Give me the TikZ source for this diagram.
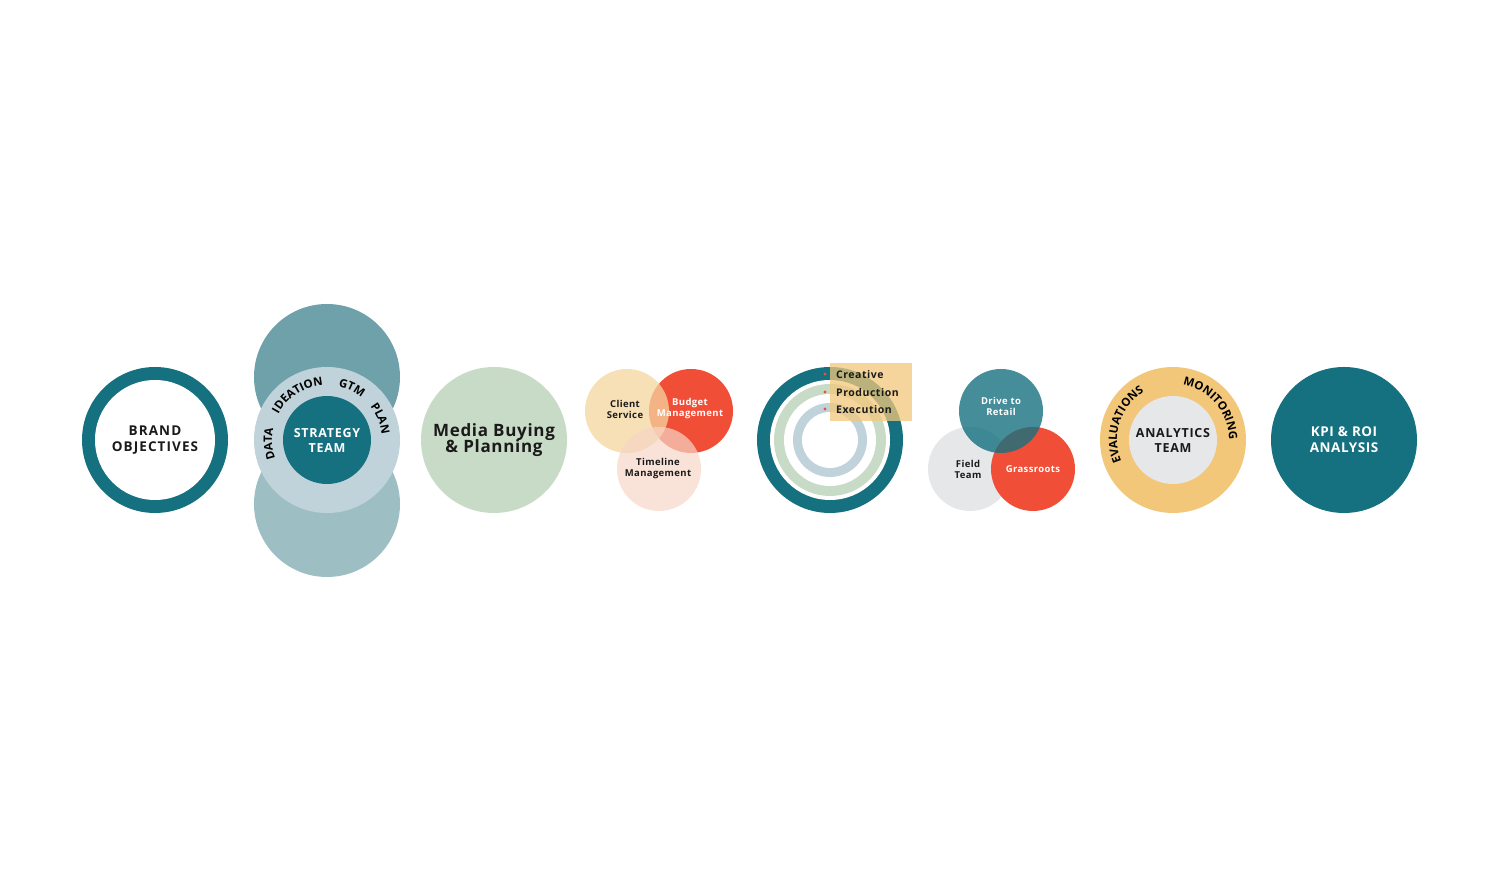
\documentclass[tikz,border=0pt]{standalone}
\usepackage{fontspec}
\setmainfont{Open Sans}
\usetikzlibrary{decorations.text}
\definecolor{teal}{HTML}{15707F}
\definecolor{tealA}{HTML}{6FA1AA}
\definecolor{tealB}{HTML}{9DBFC4}
\definecolor{grayblue}{HTML}{C1D3DA}
\definecolor{sage}{HTML}{C8DBC6}
\definecolor{sand}{HTML}{F2C77A}
\definecolor{sandl}{HTML}{F5D59E}
\definecolor{redo}{HTML}{F04E37}
\definecolor{peach}{HTML}{F6D6C6}
\definecolor{lgray}{HTML}{E6E7E9}
\definecolor{ink}{HTML}{1A1A1A}
\tikzset{
  x=1pt,y=1pt,
  disc/.style={circle,inner sep=0,minimum size=#1,draw=none,align=center,font=\bfseries},
  lbl/.style={align=center,font=\bfseries,inner sep=0},
  arcword/.style={decorate,decoration={text along path,text={|\fontsize{11.5}{10}\bfseries|#1}}}
}
\begin{document}
\begin{tikzpicture}
\useasboundingbox (0,0) rectangle (1500,891);
% 1 brand
\node[disc=146pt,fill=teal] (brand) at (155,451) {};
\node[disc=120pt,fill=white] (brandin) at (155,451) {};
\node[lbl,text=ink,font=\fontsize{13.5}{16}\bfseries\addfontfeature{LetterSpace=8}] at (brand) {BRAND\\OBJECTIVES};
% 2 strategy
\node[disc=146pt,fill=tealA] (sA) at (327,514) {};
\node[disc=146pt,fill=tealB] (sB) at (327,387) {};
\node[disc=146pt,fill=grayblue] (sM) at (327,451) {};
\node[disc=88pt,fill=teal,text=white,font=\fontsize{12.5}{15}\bfseries\addfontfeature{LetterSpace=6}] (strat) at (327,451) {STRATEGY\\TEAM};
\path[arcword={DATA}] (sM.center) ++(200:55) arc[start angle=200,end angle=100,radius=55];
\path[arcword={IDEATION}] (sM.center) ++(152:55) arc[start angle=152,end angle=40,radius=55];
\path[arcword={GTM}] (sM.center) ++(78:55) arc[start angle=78,end angle=0,radius=55];
\path[arcword={PLAN}] (sM.center) ++(38:55) arc[start angle=38,end angle=-60,radius=55];
% 3 media
\node[disc=146pt,fill=sage,text=ink,font=\fontsize{17}{17}\bfseries\addfontfeature{LetterSpace=4}] (media) at (494,451) {Media Buying\\[-1pt]\& Planning};
% 4 venn
\node[disc=84pt,fill=redo] (budget) at (691,480) {};
\node[disc=84pt,fill=sandl,opacity=0.75] (client) at (627,480) {};
\node[disc=84pt,fill=peach,opacity=0.7] (timeline) at (659,422) {};
\node[lbl,text=ink,font=\fontsize{9.5}{11}\bfseries\addfontfeature{LetterSpace=4}] at (625,482) {Client\\Service};
\node[lbl,text=white,font=\fontsize{9.5}{11}\bfseries\addfontfeature{LetterSpace=4}] at (690,482) {Budget\\Management};
\node[lbl,text=ink,font=\fontsize{9.5}{11}\bfseries\addfontfeature{LetterSpace=4}] at (658,422) {Timeline\\Management};
% 5 target
\node[disc=146pt,fill=teal] (t1) at (830,451) {};
\node[disc=120pt,fill=white] (t1w) at (830,451) {};
\node[disc=112pt,fill=sage] (t2) at (830,451) {};
\node[disc=92pt,fill=white] (t2w) at (830,451) {};
\node[disc=74pt,fill=grayblue] (t3) at (830,451) {};
\node[disc=56pt,fill=white] (t3w) at (830,451) {};
\fill[sand,opacity=0.75] (830,470) rectangle (912,528);
\foreach \yy/\tt in {516/Creative,498/Production,481/Execution}{
  \fill[redo] (825,\yy+1) circle (1.6);
  \node[lbl,anchor=west,text=ink,font=\fontsize{10.5}{12}\bfseries\addfontfeature{LetterSpace=5}] at (836,\yy) {\tt};
}
% 6 venn2
\node[disc=84pt,fill=lgray] (field) at (970,422) {};
\node[disc=84pt,fill=redo] (grass) at (1033,422) {};
\node[disc=84pt,fill=teal,opacity=0.8] (drive) at (1001,480) {};
\node[lbl,text=white,font=\fontsize{9.5}{11}\bfseries\addfontfeature{LetterSpace=4}] at (1001,485) {Drive to\\Retail};
\node[lbl,text=ink,font=\fontsize{9.5}{11}\bfseries\addfontfeature{LetterSpace=4}] at (968,422) {Field\\Team};
\node[lbl,text=white,font=\fontsize{9.5}{11}\bfseries\addfontfeature{LetterSpace=4}] at (1033,422) {Grassroots};
% 7 analytics
\node[disc=146pt,fill=sand] (an) at (1173,451) {};
\node[disc=88pt,fill=lgray,text=ink,font=\fontsize{12.5}{15}\bfseries\addfontfeature{LetterSpace=6}] (anin) at (1173,451) {ANALYTICS\\TEAM};
\path[arcword={EVALUATIONS}] (an.center) ++(203:56) arc[start angle=203,end angle=40,radius=56];
\path[arcword={MONITORING}] (an.center) ++(80:56) arc[start angle=80,end angle=-80,radius=56];
% 8 kpi
\node[disc=146pt,fill=teal,text=white,font=\fontsize{13.5}{16}\bfseries\addfontfeature{LetterSpace=4}] (kpi) at (1344,451) {KPI \& ROI\\ANALYSIS};
\end{tikzpicture}
\end{document}
